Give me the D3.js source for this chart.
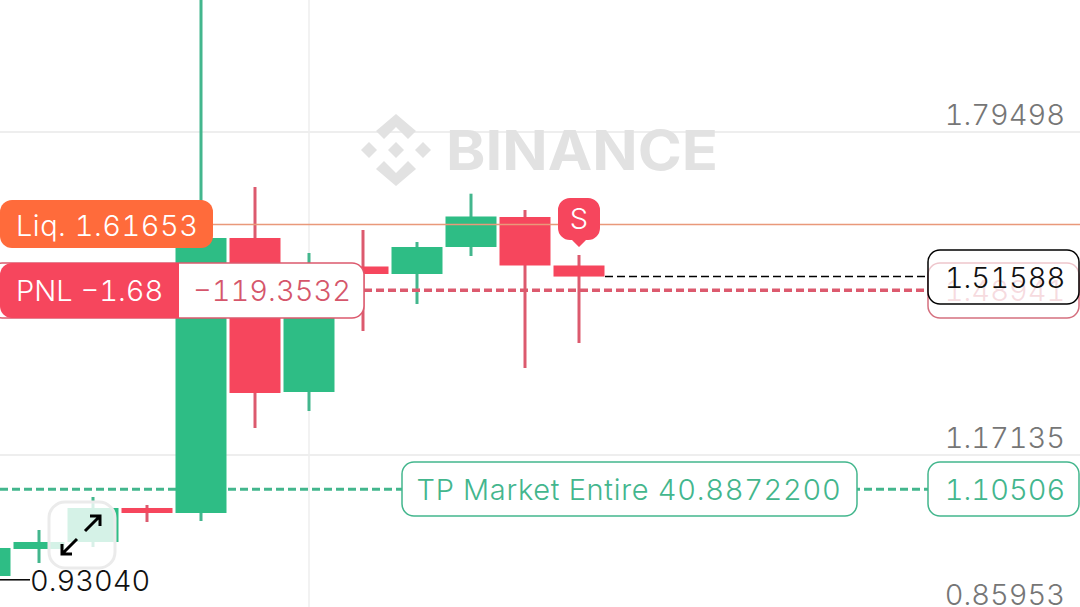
<!DOCTYPE html>
<html>
<head>
<meta charset="utf-8">
<script src="https://cdn.jsdelivr.net/npm/d3@7"></script>
<style>
	html, body { margin: 0; padding: 0; background: #fff; overflow: hidden; }
	text { font-family: Inter, Lato, sans-serif; font-weight: 350; font-variant-numeric: tabular-nums; font-feature-settings: "tnum" 1; }
</style>
</head>
<body>
<div id="chart"></div>
<script>
//candles
var opens  = [0.93775, 0.98988, 1.00339, 1.06904, 1.05938, 1.59033, 1.29300, 1.53530, 1.52082, 1.57295, 1.63087, 1.53723];
var closes = [0.99181, 1.00339, 1.06904, 1.05938, 1.59033, 1.29107, 1.53434, 1.52082, 1.57295, 1.63184, 1.53723, 1.51588];
var highs  = [1.00725, 1.02656, 1.09027, 1.07483, 2.08845, 1.68879, 1.56137, 1.60577, 1.58260, 1.67586, 1.64439, 1.55750];
var lows   = [0.92037, 0.96285, 0.99374, 1.04201, 1.04394, 1.22349, 1.25631, 1.41077, 1.46290, 1.55557, 1.33933, 1.38760];

//price axis
var priceTicks = [1.79498, 1.17135, 0.85953];
var gridCandle = [6];

//order lines
var liqPrice = 1.61653;
var pnlPrice = 1.48941;
var tpPrice = 1.10506;
var lastPrice = 1.51588;
var lowPrice = 0.93040;
var pnlPct = "PNL −1.68";
var pnlValue = "−119.3532";
var tpLabel = "TP Market Entire 40.8872200";

var green = "#2ebd85",
	greenLine = "#43b68d",
	red = "#f6465d",
	redLine = "#dc5a6e",
	orange = "#ff6b3b",
	grey = "#767676",
	gridColor = "#eeeeee";

var width = 1080,
	height = 607,
	fontSize = 29;

var svg = d3.select("#chart").append("svg")
	.attr("width", width)
	.attr("height", height)
	.style("display", "block");

var x = d3.scaleLinear().domain([0, 11]).range([-15, 579]);
var y = d3.scaleLinear().domain([0.85953, 1.79498]).range([616.5, 132]);

var candleWidth = 51;
var candles = d3.range(opens.length);

//rounded label box with centered text
function box(x0, y0, w, h, fill, stroke) {
	return svg.append("rect")
		.attr("x", x0).attr("y", y0)
		.attr("width", w).attr("height", h)
		.attr("rx", 12)
		.attr("fill", fill)
		.attr("stroke", stroke || "none")
		.attr("stroke-width", 1.5);
}

function label(tx, ty, str, color, anchor) {
	return svg.append("text")
		.attr("x", tx).attr("y", ty)
		.attr("dy", "0.36em")
		.attr("text-anchor", anchor || "middle")
		.attr("font-size", fontSize)
		.attr("fill", color)
		.text(str);
}

//grid
svg.selectAll("line.grid-h")
	.data(priceTicks)
	.enter().append("line")
	.attr("class", "grid-h")
	.attr("x1", 0).attr("x2", width)
	.attr("y1", function(d){ return y(d); })
	.attr("y2", function(d){ return y(d); })
	.attr("stroke", gridColor)
	.attr("stroke-width", 2);

svg.selectAll("line.grid-v")
	.data(gridCandle)
	.enter().append("line")
	.attr("class", "grid-v")
	.attr("x1", function(d){ return x(d); })
	.attr("x2", function(d){ return x(d); })
	.attr("y1", 0).attr("y2", height)
	.attr("stroke", gridColor)
	.attr("stroke-width", 1.5);

//watermark
var logo = svg.append("g").attr("fill", "#e2e2e2").attr("transform", "translate(396,150)");
var logoPaths = [
	"M-12 -11 L0 -23 L12 -11 L20 -19 L0 -36 L-20 -19 Z",
	"M-12 11 L0 23 L12 11 L20 19 L0 36 L-20 19 Z",
	"M0 -8 L8 0 L0 8 L-8 0 Z",
	"M-27 -8 L-19 0 L-27 8 L-35 0 Z",
	"M27 -8 L35 0 L27 8 L19 0 Z"
];
logo.selectAll("path").data(logoPaths).enter().append("path").attr("d", function(d){ return d; });

svg.append("text")
	.attr("x", 446).attr("y", 170)
	.style("font-weight", 700)
	.attr("font-size", 55)
	.attr("textLength", 272)
	.attr("lengthAdjust", "spacingAndGlyphs")
	.attr("fill", "#e2e2e2")
	.text("BINANCE");

//tick labels sit above their grid line
svg.selectAll("text.tick")
	.data(priceTicks)
	.enter().append("text")
	.attr("class", "tick")
	.attr("x", 1065)
	.attr("y", function(d){ return Math.min(y(d) - 17, 595); })
	.attr("dy", "0.36em")
	.attr("text-anchor", "end")
	.attr("font-size", fontSize)
	.attr("fill", grey)
	.text(function(d){ return d.toFixed(5); });

//tp line runs behind the candles
svg.append("line")
	.attr("x1", 0).attr("x2", 928)
	.attr("y1", y(tpPrice)).attr("y2", y(tpPrice))
	.attr("stroke", greenLine)
	.attr("stroke-width", 3)
	.attr("stroke-dasharray", "8 4");

//let render the candles
svg.selectAll("line.wick")
	.data(candles)
	.enter().append("line")
	.attr("class", "wick")
	.attr("x1", function(d){ return x(d); })
	.attr("x2", function(d){ return x(d); })
	.attr("y1", function(d){ return y(highs[d]); })
	.attr("y2", function(d){ return y(lows[d]); })
	.attr("stroke", function(d){ return closes[d] >= opens[d] ? greenLine : redLine; })
	.attr("stroke-width", 3);

svg.selectAll("rect.body")
	.data(candles)
	.enter().append("rect")
	.attr("class", "body")
	.attr("x", function(d){ return x(d) - candleWidth / 2; })
	.attr("width", candleWidth)
	.attr("y", function(d){ return y(Math.max(opens[d], closes[d])); })
	.attr("height", function(d){ return Math.abs(y(opens[d]) - y(closes[d])); })
	.attr("fill", function(d){ return closes[d] >= opens[d] ? green : red; });

//liquidation line
svg.append("line")
	.attr("x1", 200).attr("x2", width)
	.attr("y1", y(liqPrice)).attr("y2", y(liqPrice))
	.attr("stroke", "#e9997a")
	.attr("stroke-width", 1.5);
box(0, 200, 213, 48, orange);
label(16, 226, "Liq. 1.61653", "#fff", "start").style("letter-spacing", "0.5px");

//pnl line and boxes
svg.append("line")
	.attr("x1", 364).attr("x2", 928)
	.attr("y1", y(pnlPrice)).attr("y2", y(pnlPrice))
	.attr("stroke", redLine)
	.attr("stroke-width", 3.5)
	.attr("stroke-dasharray", "8 4");

box(-10, 263, 374, 55, "#fff", redLine);
svg.append("path")
	.attr("d", "M179 263 H12 A12 12 0 0 0 0 275 V306 A12 12 0 0 0 12 318 H179 Z")
	.attr("fill", red);
label(16, 291, pnlPct, "#fff", "start");
label(272, 291, pnlValue, "#d5566b");

//faded price box behind the last price
box(928, 263, 151, 55, "#fff", "#d5707f");
label(1005, 291, pnlPrice.toFixed(5), "#e9a5b0");

//last price
svg.append("line")
	.attr("x1", 605).attr("x2", 928)
	.attr("y1", y(lastPrice)).attr("y2", y(lastPrice))
	.attr("stroke", "#000")
	.attr("stroke-width", 1.5)
	.attr("stroke-dasharray", "8 4");
box(928, 250, 151, 54, "rgba(255,255,255,0.6)", "#000");
label(1005, 278, lastPrice.toFixed(5), "#111");

//tp boxes
box(402, 462, 455, 54, "#fff", greenLine);
label(629, 490, tpLabel, greenLine).style("letter-spacing", "0.7px");
box(928, 462, 151, 54, "#fff", greenLine);
label(1005, 490, tpPrice.toFixed(5), greenLine);

//sell marker
svg.append("path")
	.attr("d", "M570 198 H588 A12 12 0 0 1 600 210 V228 A12 12 0 0 1 588 240 H586 L579 247 L572 240 H570 A12 12 0 0 1 558 228 V210 A12 12 0 0 1 570 198 Z")
	.attr("fill", red);
label(579, 219, "S", "#fff");

//lowest price marker
svg.append("line")
	.attr("x1", 0).attr("x2", 30)
	.attr("y1", y(lowPrice)).attr("y2", y(lowPrice))
	.attr("stroke", "#000")
	.attr("stroke-width", 1.5);
label(30, 581, lowPrice.toFixed(5), "#111", "start");

//expand control
svg.append("rect")
	.attr("x", 49).attr("y", 502)
	.attr("width", 66).attr("height", 66)
	.attr("rx", 16)
	.attr("fill", "rgba(255,255,255,0.8)")
	.attr("stroke", "#ebebeb")
	.attr("stroke-width", 3);

var arrows = [
	"M85 531 L100 516 M90 516 H100 V526",
	"M77 539 L62 554 M62 544 V554 H72"
];
svg.selectAll("path.arrow")
	.data(arrows)
	.enter().append("path")
	.attr("class", "arrow")
	.attr("d", function(d){ return d; })
	.attr("fill", "none")
	.attr("stroke", "#000")
	.attr("stroke-width", 3);
</script>
</body>
</html>
